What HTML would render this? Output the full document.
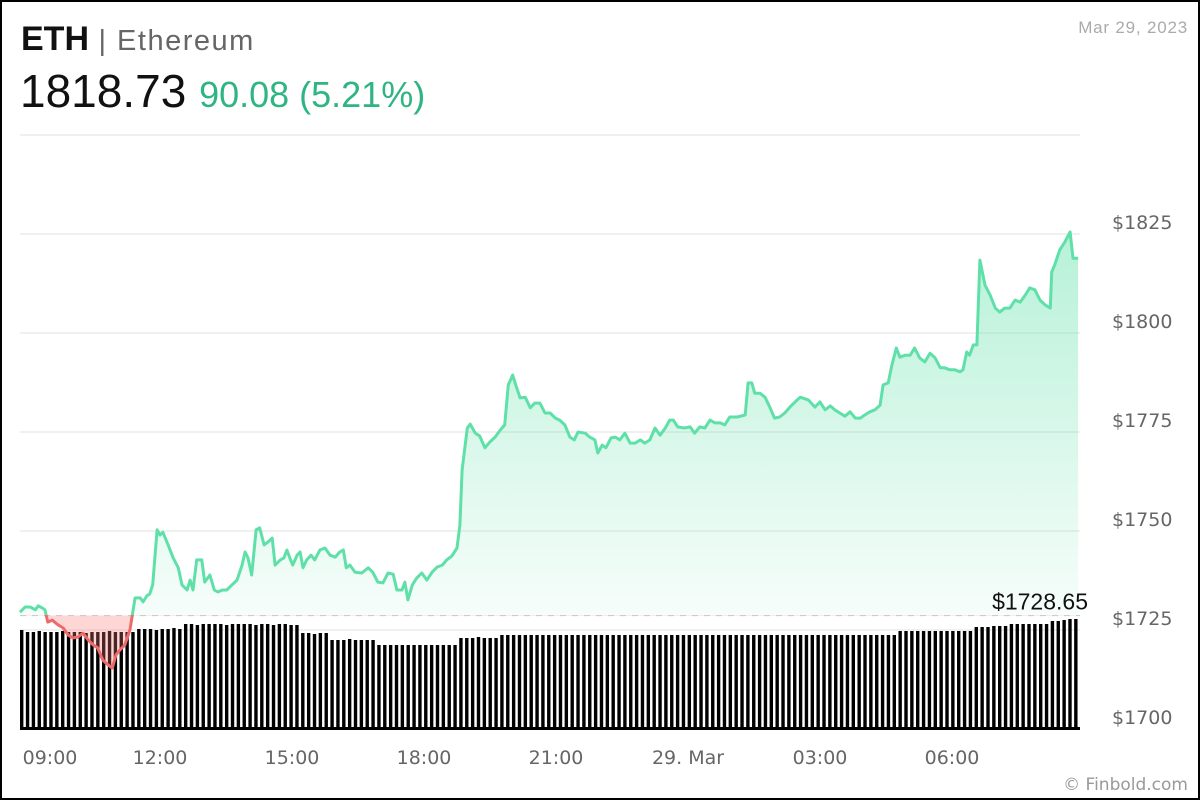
<!DOCTYPE html>
<html><head><meta charset="utf-8"><style>
html,body{margin:0;padding:0;background:#fff}
#wrap{position:relative;width:1200px;height:800px;box-sizing:border-box;border:2px solid #000;overflow:hidden;font-family:"Liberation Sans",sans-serif}
.t{position:absolute;white-space:nowrap}
</style></head><body>
<div id="wrap">
<div class="t" style="left:19px;top:18px;font-size:34px;font-weight:bold;color:#111">ETH <span style="font-weight:normal;color:#666;font-size:29px;letter-spacing:1.5px">| Ethereum</span></div>
<div class="t" style="left:18px;top:62px;font-size:46px;color:#111">1818.73 <span style="color:#2fb583;font-size:36px">90.08 (5.21%)</span></div>
<div class="t" style="right:10px;top:16px;font-size:17px;color:#aaa;letter-spacing:0.8px">Mar 29, 2023</div>
<div class="t" style="right:10px;top:773px;font-size:17px;color:#999;font-family:'DejaVu Sans',sans-serif">© Finbold.com</div>
<svg id="svg" width="1200" height="800" style="position:absolute;left:-2px;top:-2px">
<defs>
<linearGradient id="gg" x1="0" y1="0" x2="0" y2="1"><stop offset="0" stop-color="#5fe0a8" stop-opacity="0.45"/><stop offset="1" stop-color="#5fe0a8" stop-opacity="0"/></linearGradient>
<clipPath id="above"><rect x="0" y="0" width="1200" height="615"/></clipPath>
<clipPath id="below"><rect x="0" y="615" width="1200" height="200"/></clipPath>
</defs>
</svg>
</div>
<script>
const times=[-11,-4,3,10,14,19,23,27,33,41,48,55,61,68,75,82,89,95,102,109,115,120,125,132,139,146,153,157,162,166,170,176,180,184,191,198,205,210,217,221,225,230,237,241,248,254,259,265,271,278,285,292,296,300,305,311,316,322,327,333,337,344,349,353,357,361,367,371,375,380,386,391,398,405,412,419,425,430,434,439,446,455,464,470,477,484,491,498,503,510,514,518,524,530,537,544,551,558,565,571,578,585,589,592,599,603,610,616,623,630,637,644,650,655,661,665,671,678,685,691,698,705,712,719,725,732,739,745,750,760,766,773,777,783,788,795,801,807,814,821,828,835,841,848,855,862,869,875,880,886,895,903,909,916,923,930,937,944,950,957,967,978,982,987,991,998,1005,1012,1018,1025,1032,1039,1046,1053,1064,1073,1080,1087,1094,1100,1107,1114,1121,1128,1135,1141,1148,1155,1162,1166,1173,1178,1184,1189,1196,1203,1209,1216,1223,1230,1237,1244,1250,1257,1264,1271,1275,1280,1284,1289,1294,1298,1305,1312,1319,1325,1332,1339,1346,1353,1360,1366,1373,1380,1387,1394,1396,1400,1407,1414,1421,1425,1432];
const prices=[1729.5,1730.8,1730.8,1730.1,1731.1,1730.6,1730.1,1727.0,1727.5,1726.3,1725.5,1723.7,1723.0,1723.2,1724.2,1722.5,1721.2,1720.5,1717.4,1716.2,1715.4,1718.7,1719.9,1721.2,1725.0,1733.1,1733.1,1732.1,1733.6,1734.1,1736.4,1750.3,1749.0,1749.7,1746.5,1743.2,1740.7,1736.4,1735.1,1737.6,1735.1,1742.7,1742.7,1737.1,1738.9,1735.1,1734.6,1735.1,1735.1,1736.4,1737.6,1741.4,1744.7,1743.2,1738.9,1750.3,1750.8,1746.5,1747.2,1748.2,1741.4,1742.7,1743.2,1745.2,1743.2,1741.4,1743.9,1744.7,1740.7,1742.7,1743.9,1742.7,1745.2,1745.7,1743.9,1743.4,1744.7,1745.2,1740.7,1741.4,1739.6,1739.4,1740.7,1739.6,1737.1,1736.9,1739.4,1739.1,1735.1,1735.1,1737.1,1732.6,1736.4,1738.1,1739.4,1737.6,1739.6,1740.9,1741.4,1742.7,1743.7,1745.7,1751.5,1765.4,1776.0,1777.0,1774.7,1774.0,1771.0,1772.5,1773.7,1775.5,1776.8,1786.9,1789.4,1786.9,1783.6,1783.8,1781.1,1782.3,1782.3,1779.8,1779.8,1778.5,1778.0,1776.8,1773.7,1773.0,1775.0,1774.7,1773.7,1773.0,1769.7,1771.7,1771.0,1773.5,1773.7,1773.0,1774.7,1772.2,1772.2,1773.0,1772.2,1773.0,1776.0,1774.2,1776.0,1778.0,1778.0,1776.3,1776.0,1776.3,1774.7,1776.3,1776.0,1778.0,1777.3,1777.3,1776.8,1778.8,1778.8,1779.3,1787.4,1787.4,1784.8,1784.8,1783.8,1781.1,1778.5,1778.8,1779.8,1781.3,1782.6,1783.8,1783.1,1781.3,1782.6,1780.6,1781.6,1780.6,1779.8,1779.0,1780.1,1778.5,1778.5,1779.3,1780.1,1780.6,1781.8,1786.9,1787.4,1791.9,1796.2,1793.9,1794.4,1794.4,1796.2,1793.7,1792.7,1794.9,1793.7,1791.2,1791.2,1790.7,1790.7,1790.2,1790.7,1795.2,1794.4,1797.0,1797.0,1818.4,1812.1,1809.6,1806.3,1805.3,1806.3,1806.3,1808.3,1807.8,1809.6,1811.4,1810.9,1808.3,1807.1,1806.3,1815.4,1817.2,1821.0,1823.0,1825.5,1818.9,1818.9];
const volumes=[99,97,97,98,97,97,97,98,97,97,97,96,97,97,97,98,97,97,97,97,100,100,100,99,100,100,101,100,105,105,104,105,105,105,105,104,105,105,105,105,104,105,105,104,105,105,104,104,96,96,95,96,96,89,89,89,90,89,89,89,89,84,84,84,84,84,84,84,84,84,84,84,84,84,84,91,91,91,92,91,91,91,94,94,94,94,94,94,94,94,94,94,94,94,94,94,94,94,94,94,94,94,94,94,94,94,94,94,94,94,94,94,94,94,94,94,94,94,94,94,94,94,94,94,94,94,94,94,94,94,94,94,94,94,94,94,94,94,94,94,94,94,94,94,94,94,94,94,94,94,98,98,98,98,98,98,98,98,98,98,98,98,98,102,102,102,103,103,103,105,105,105,105,105,105,105,108,108,109,110,110];
const yTicks=[1700,1725,1750,1775,1800,1825,1850];
const xTickTimes=[0,180,360,540,720,900,1080,1260];
const xTickLabels=["09:00","12:00","15:00","18:00","21:00","29. Mar","03:00","06:00"];
const basePrice=1728.65;

const svg=document.getElementById('svg');
const NS='http://www.w3.org/2000/svg';
const X0=20,X1=1080;
const xT=m=>28+m*44/60;
const yP=p=>729-(p-1700)*3.96;
function mk(tag,attrs,parent){const e=document.createElementNS(NS,tag);for(const k in attrs)e.setAttribute(k,attrs[k]);(parent||svg).appendChild(e);return e;}

yTicks.forEach((v,i)=>{
  if(v>1700){const g=mk('line',{x1:X0,x2:X1,y1:yP(v),y2:yP(v),stroke:'#e2e2e2','stroke-width':1});
  
  }
  if(v<1850){const t=mk('text',{x:1112,y:yP(v)-5,'font-size':19,fill:'#666','font-family':'DejaVu Sans, sans-serif'});
  t.textContent='$'+v;
  
  }
});

const pitch=(X1-X0)/volumes.length;
volumes.forEach((v,i)=>{
  const r=mk('rect',{x:X0+i*pitch,y:729-v,width:pitch*0.58,height:v,fill:'#000'});
  
  
});
mk('rect',{x:X0,y:727,width:X1-X0,height:3,fill:'#000'});

const pts=times.map((t,i)=>[Math.max(X0,Math.min(X1,xT(t))),yP(prices[i])]);
const lineD='M'+pts.map(p=>p[0].toFixed(1)+','+p[1].toFixed(1)).join('L');
const yb=yP(basePrice);
const areaD=lineD+'L'+pts[pts.length-1][0]+','+yb+'L'+pts[0][0]+','+yb+'Z';

const ga=mk('path',{d:areaD,fill:'url(#gg)','clip-path':'url(#above)'});


const ra=mk('path',{d:areaD,fill:'rgba(255,120,120,0.3)','clip-path':'url(#below)'});



const bl=mk('line',{x1:X0,x2:X1,y1:yb,y2:yb,stroke:'#ccc','stroke-width':1.2,'stroke-dasharray':'6,6'});



const gl=mk('path',{d:lineD,fill:'none',stroke:'#5fe0a8','stroke-width':3,'stroke-linejoin':'round','clip-path':'url(#above)'});


const rl=mk('path',{d:lineD,fill:'none',stroke:'#ee6b6b','stroke-width':3,'stroke-linejoin':'round','clip-path':'url(#below)'});



const bt=mk('text',{x:1088,y:yb-6,'text-anchor':'end','font-size':23,fill:'#111','font-family':'Liberation Sans, sans-serif'});
bt.textContent='$'+basePrice.toFixed(2);



xTickTimes.forEach((m,i)=>{
  const x=i===0?50:xT(m);
  const t=mk('text',{x:x,y:764,'text-anchor':'middle','font-size':19,fill:'#666','font-family':'DejaVu Sans, sans-serif'});
  t.textContent=xTickLabels[i];
  
  
});
</script>
</body></html>
